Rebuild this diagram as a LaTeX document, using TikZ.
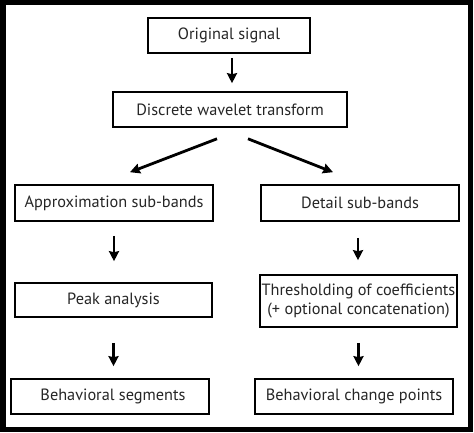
\documentclass[tikz,border=0pt]{standalone}
\usepackage{fontspec}
\setmainfont{PT Sans}
\usetikzlibrary{arrows.meta}
\begin{document}
\begin{tikzpicture}[x=1pt,y=-1pt,
  box/.style={draw=black,line width=1.6pt,inner sep=0pt,minimum width=198pt,minimum height=35pt,font=\fontsize{16.3}{19}\selectfont,align=center,text=black!85},
  arr/.style={line width=2.8pt,-{Stealth[length=10pt,width=10pt,inset=1pt]}}]
\useasboundingbox (0,0) rectangle (474,433);
\fill[white] (0,0) rectangle (474,433);
\draw[line width=5.5pt] (2.75,2.75) rectangle (470.5,429.5);
\node[box,minimum width=162pt] (orig) at (229,35.5) {Original signal};
\node[box,minimum width=234pt] (dwt) at (230,109.5) {Discrete wavelet transform};
\node[box,minimum height=36pt] (app) at (114,203) {Approximation sub-bands};
\node[box,minimum height=36pt] (det) at (360,203) {Detail sub-bands};
\node[box,minimum width=197pt,minimum height=34pt] (peak) at (113.5,300) {Peak analysis};
\node[box,minimum width=197pt,minimum height=52pt] (thr) at (358.5,301) {Thresholding of coefficients\\(+ optional concatenation)};
\node[box] (bseg) at (110,396.5) {\hspace*{6pt}Behavioral segments};
\node[box] (bchg) at (354,396.5) {Behavioral change points};
\draw[arr,shorten <=4pt,shorten >=8pt] ([xshift=3pt]orig.south) -- ([xshift=3pt]orig.south |- dwt.north);
\draw[arr] ([xshift=-13pt,yshift=-11pt]dwt.south) -- ([xshift=16pt,yshift=12pt]app.north);
\draw[arr] ([xshift=18pt,yshift=-11pt]dwt.south) -- ([xshift=-27pt,yshift=12pt]det.north);
\draw[arr,shorten <=14pt,shorten >=21pt] (app.south) -- (app.south |- peak.north);
\draw[arr,shorten <=16pt,shorten >=14pt] ([xshift=-2pt]det.south) -- ([xshift=-2pt]det.south |- thr.north);
\draw[arr,shorten <=25pt,shorten >=12pt] (peak.south) -- (peak.south |- bseg.north);
\draw[arr,shorten <=15pt,shorten >=12pt] (thr.south) -- (thr.south |- bchg.north);
\end{tikzpicture}
\end{document}
